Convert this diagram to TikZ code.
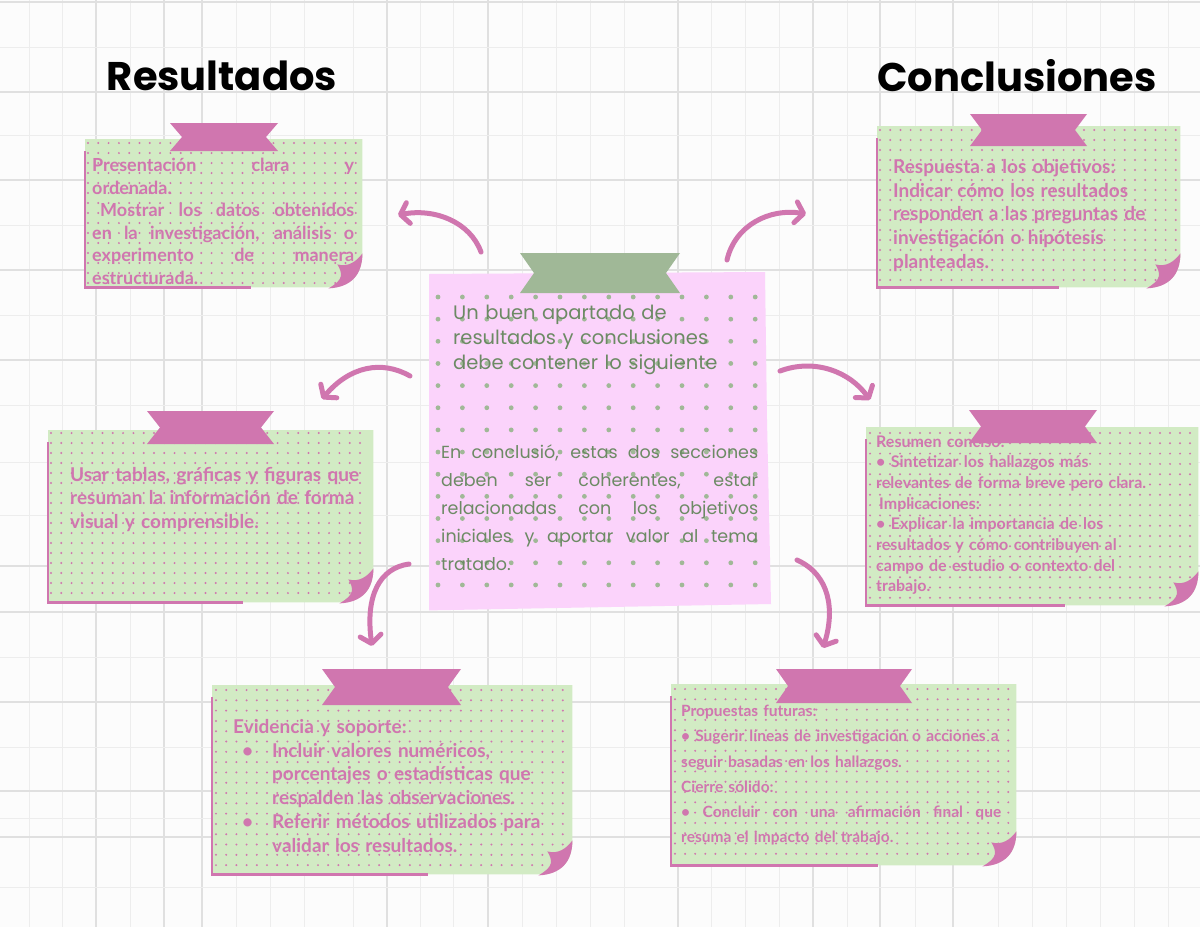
\documentclass[tikz,border=0pt]{standalone}
\usepackage{fontspec}
\usepackage{tikz}
\usetikzlibrary{arrows.meta}
\setmainfont{Lato}
\newfontfamily\guiafont{Poppins}
\newfontfamily\titulofont{Poppins}
\setlength{\parindent}{0pt}

\definecolor{paper}{HTML}{FCFCFC}
\definecolor{gridlight}{HTML}{EDEDED}
\definecolor{gridstrong}{HTML}{E0E0E0}
\definecolor{boxgreen}{HTML}{D2EBC4}
\definecolor{tapepink}{HTML}{D076AF}
\definecolor{notepink}{HTML}{FBD3FB}
\definecolor{tapegreen}{HTML}{A0B897}
\definecolor{guiatext}{HTML}{6C8A64}

\tikzset{
  titulo/.style={inner sep=0pt, font=\titulofont\bfseries\fontsize{40}{44}\selectfont},
  texto/.style={inner sep=0pt, anchor=north west, align=left, text=tapepink},
  guia/.style={inner sep=0pt, anchor=north west, align=left, text=guiatext},
  flecha/.style={draw=tapepink, line width=5pt, line cap=round,
    -{Straight Barb[length=8pt,width=21pt,round]}},
}

% a full justified line
\newcommand{\fullline}[1]{\makebox[\hsize][s]{\spaceskip=0pt \xspaceskip=0pt #1}}

\newcommand{\boxpath}[1]{(#1.north west) -- (#1.north east) -- ([yshift=34pt]#1.south east)
    .. controls ([yshift=12pt]#1.south east) and ([xshift=-12pt]#1.south east) .. ([xshift=-34pt]#1.south east)
    -- (#1.south west) -- cycle}

% name, x, y, width, height
\newcommand{\notebox}[5]{
  \node[inner sep=0pt, minimum width=#4pt, minimum height=#5pt, anchor=north west] (#1) at (#2,#3) {};
  \fill[boxgreen] \boxpath{#1};
  \draw[tapepink, line width=2.5pt] ([yshift=-12pt]#1.north west) -- (#1.south west) -- ([xshift=#4*0.6 pt]#1.south west);
}

\newcommand{\notecurl}[1]{
  \fill[tapepink] ([yshift=34pt]#1.south east)
    .. controls ([yshift=12pt]#1.south east) and ([xshift=-12pt]#1.south east) .. ([xshift=-34pt,yshift=-1pt]#1.south east)
    .. controls ([xshift=-18pt,yshift=8pt]#1.south east) and ([xshift=-20pt,yshift=14pt]#1.south east) .. ([xshift=-25pt,yshift=23pt]#1.south east)
    .. controls ([xshift=-14pt,yshift=20pt]#1.south east) and ([xshift=-6pt,yshift=26pt]#1.south east) .. cycle;
}

% x, y, last i, last j, dx, dy, radius, colour
\newcommand{\dotfield}[8]{
  \foreach \i in {0,...,#3}
    \foreach \j in {0,...,#4}
      \fill[#8] ({#1+\i*#5},{#2+\j*#6}) circle (#7pt);
}

% colour, left, top, right, bottom, notch
\newcommand{\ribbon}[6]{
  \fill[#1] (#2,#3) -- (#4,#3) -- ({#4-#6},{(#3+#5)/2}) -- (#4,#5) -- (#2,#5) -- ({#2+#6},{(#3+#5)/2}) -- cycle;
}

\begin{document}
\begin{tikzpicture}[x=1pt, y=-1pt]

    \useasboundingbox (0,0) rectangle (1200,927);
    \fill[paper] (0,0) rectangle (1200,927);

    % squared paper
    \foreach \x in {29,62,130,236,270,304,353,420,453,522,556,590,624,711,745,779,847,915,998,1032,1066,1100,1134,1168}
      \draw[gridlight, line width=1pt] (\x,0) -- (\x,927);
    \foreach \x in {96,164,202,387,488,678,813,880,953}
      \draw[gridstrong, line width=1.2pt] (\x,0) -- (\x,927);
    \foreach \y in {47,135,225,315,405,462,515,657,747,818,887}
      \draw[gridlight, line width=1pt] (0,\y) -- (1200,\y);
    \foreach \y in {2,92,180,270,360,566,612,702,791,837}
      \draw[gridstrong, line width=1.2pt] (0,\y) -- (1200,\y);

    \node[titulo] (tituloA) at (222,76) {Resultados};
    \node[titulo] (tituloB) at (1017,76) {Conclusiones};

    % centre sheet
    \node[inner sep=0pt, minimum width=340pt, minimum height=336pt, anchor=north west] (central) at (429,274) {};
    \fill[notepink] (central.north west) -- (765,272) -- (767,420) -- (771,604) -- (central.south west) -- cycle;
    \dotfield{438}{297}{13}{13}{24.4}{22.15}{2.4}{tapegreen}
    \ribbon{tapegreen}{520}{253}{680}{293}{14}
    \node[guia, text width=290pt, font=\guiafont\fontsize{19.5}{25}\selectfont] (intro) at (453,305)
      {Un buen apartado de\\resultados y conclusiones\\debe contener lo siguiente};
    \node[guia, text width=317pt, font=\guiafont\fontsize{17.5}{28}\selectfont] (cierre) at (441,444)
      {\fullline{En conclusió, estas dos secciones}\\
       \fullline{deben ser coherentes, estar}\\
       \fullline{relacionadas con los objetivos}\\
       \fullline{iniciales y aportar valor al tema}\\
       tratado.};

    % left column
    \notebox{presentacion}{85}{139}{277}{148}
    \begin{scope}
      \clip \boxpath{presentacion};
      \dotfield{88}{143}{26}{14}{10.3}{10}{1.1}{tapepink}
    \end{scope}
    \notecurl{presentacion}
    \ribbon{tapepink}{170}{123}{278}{151}{12}
    \node[texto, text width=262pt, font=\bfseries\fontsize{18}{22.6}\selectfont] (presentaciontxt) at (92,158)
      {\fullline{Presentación clara y}\\ordenada.\\
       \fullline{\hspace*{8pt}Mostrar los datos obtenidos}\\
       \fullline{en la investigación, análisis o}\\
       \fullline{experimento de manera}\\estructurada.};

    \notebox{tablas}{48}{430}{325}{172}
    \begin{scope}
      \clip \boxpath{tablas};
      \dotfield{51}{433}{30}{16}{10.3}{10}{1.1}{tapepink}
    \end{scope}
    \notecurl{tablas}
    \ribbon{tapepink}{147}{411}{274}{444}{13}
    \node[texto, text width=300pt, font=\bfseries\fontsize{19}{23.5}\selectfont] (tablastxt) at (70,467)
      {Usar tablas, gráficas y figuras que\\resuman la información de forma\\visual y comprensible.};

    \notebox{evidencia}{212}{685}{360}{189}
    \begin{scope}
      \clip \boxpath{evidencia};
      \dotfield{216}{690}{34}{17}{10.2}{10.3}{1.1}{tapepink}
    \end{scope}
    \notecurl{evidencia}
    \ribbon{tapepink}{322}{669}{461}{705}{13}
    \node[texto, text width=320pt, font=\bfseries\fontsize{19}{23.8}\selectfont] (evidenciatxt) at (233,719)
      {Evidencia y soporte:\\
       \hspace*{9pt}\makebox[30pt][l]{\textbullet}Incluir valores numéricos,\\
       \hspace*{39pt}porcentajes o estadísticas que\\
       \hspace*{39pt}respalden las observaciones.\\
       \hspace*{9pt}\makebox[30pt][l]{\textbullet}Referir métodos utilizados para\\
       \hspace*{39pt}validar los resultados.};

    % right column
    \notebox{respuesta}{877}{126}{303}{161}
    \begin{scope}
      \clip \boxpath{respuesta};
      \dotfield{880}{130}{29}{15}{10.2}{10}{1.1}{tapepink}
    \end{scope}
    \notecurl{respuesta}
    \ribbon{tapepink}{970}{114}{1087}{146}{12}
    \node[texto, text width=270pt, font=\bfseries\fontsize{19}{23.8}\selectfont] (respuestatxt) at (893,159)
      {Respuesta a los objetivos:\\Indicar cómo los resultados\\responden a las preguntas de\\investigación o hipótesis\\planteadas.};

    \notebox{resumen}{866}{427}{332}{178}
    \begin{scope}
      \clip \boxpath{resumen};
      \dotfield{870}{433}{32}{16}{10}{10.3}{1.1}{tapepink}
    \end{scope}
    \notecurl{resumen}
    \node[texto, text width=300pt, font=\bfseries\fontsize{16}{20.7}\selectfont] (resumentxt) at (876,435)
      {Resumen conciso:\\\textbullet\ Sintetizar los hallazgos más\\relevantes de forma breve pero clara.\\
       \hspace*{3pt}Implicaciones:\\\textbullet\ Explicar la importancia de los\\resultados y cómo contribuyen al\\
       campo de estudio o contexto del\\trabajo.};
    \ribbon{tapepink}{969}{410}{1097}{443}{12}

    \notebox{propuestas}{671}{684}{345}{181}
    \begin{scope}
      \clip \boxpath{propuestas};
      \dotfield{675}{689}{33}{16}{10.1}{10.3}{1.1}{tapepink}
    \end{scope}
    \notecurl{propuestas}
    \ribbon{tapepink}{776}{669}{912}{703}{12}
    \node[texto, text width=320pt, font=\bfseries\fontsize{15.5}{25.2}\selectfont] (propuestastxt) at (681,705)
      {Propuestas futuras:\\\textbullet\ Sugerir líneas de investigación o acciones a\\
       seguir basadas en los hallazgos.\\Cierre sólido:\\
       \fullline{\textbullet\ Concluir con una afirmación final que}\\resuma el impacto del trabajo.};

    % arrows from the centre sheet
    \coordinate (salidaA) at (481,252);
    \coordinate (puntaA) at (398,215);
    \coordinate (salidaB) at (727,260);
    \coordinate (puntaB) at (806,214);
    \coordinate (salidaC) at (410,376);
    \coordinate (puntaC) at (322,399);
    \coordinate (salidaD) at (780,371);
    \coordinate (puntaD) at (870,400);
    \coordinate (salidaE) at (409,564);
    \coordinate (puntaE) at (372,646);
    \coordinate (salidaF) at (797,560);
    \coordinate (puntaF) at (823,648);

    \draw[flecha] (salidaA) .. controls (470,222) and (435,208) .. (puntaA);
    \draw[flecha] (salidaB) .. controls (735,225) and (770,208) .. (puntaB);
    \draw[flecha] (salidaC) .. controls (382,360) and (350,366) .. (puntaC);
    \draw[flecha] (salidaD) .. controls (815,358) and (850,372) .. (puntaD);
    \draw[flecha] (salidaE) .. controls (380,568) and (365,595) .. (puntaE);
    \draw[flecha] (salidaF) .. controls (830,575) and (835,610) .. (puntaF);

\end{tikzpicture}
\end{document}
